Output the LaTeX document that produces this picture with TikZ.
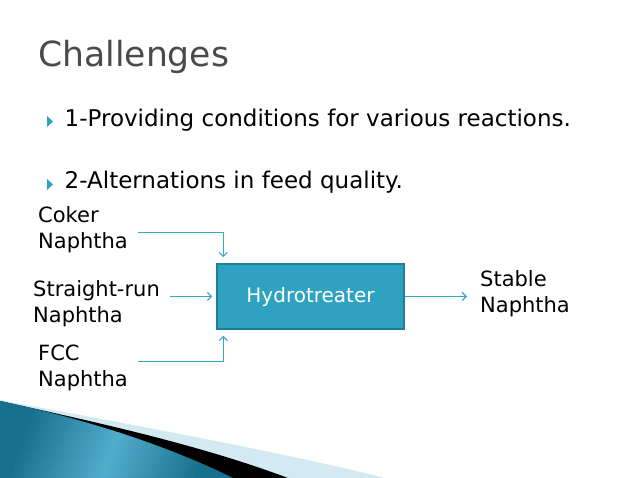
\documentclass[tikz,border=0pt]{standalone}
\usepackage{fontspec}
\setmainfont{DejaVu Sans}
\usetikzlibrary{arrows.meta}

\definecolor{hydroblue}{HTML}{2EA2C0}
\definecolor{boxedge}{HTML}{1E7F97}
\definecolor{flowblue}{HTML}{3AA7C7}
\definecolor{titlegray}{HTML}{4A4A4A}
\definecolor{swooshdark}{HTML}{17718E}
\definecolor{swooshlight}{HTML}{5BB8D6}
\definecolor{paleblue}{HTML}{D4EAF3}

\begin{document}
\begin{tikzpicture}[x=1pt, y=-1pt,
  flow/.style = {-{Straight Barb[length=4pt, width=8pt]}, draw=flowblue, line width=1.2pt},
  feed/.style = {font=\fontsize{21}{26}\selectfont, align=left, inner sep=0pt, anchor=base west},
  item/.style = {font=\fontsize{23}{28}\selectfont, inner sep=0pt, anchor=base west},
  unit/.style = {draw=boxedge, line width=1.5pt, fill=hydroblue, text=white,
                 font=\fontsize{20}{24}\selectfont, minimum width=187pt, minimum height=65pt}]
\useasboundingbox (0,0) rectangle (638,478);

% bottom swoosh
\fill[paleblue] (0,400) .. controls (150,428) and (280,452) .. (385,478) -- (0,478) -- cycle;
\fill[black] (0,401) .. controls (100,423) and (200,445) .. (288,478) -- (0,478) -- cycle;
\begin{scope}
  \clip (0,401) .. controls (90,420) and (170,447) .. (233,478) -- (0,478) -- cycle;
  \foreach \i in {0,...,70} {
    \pgfmathsetmacro\mix{max(0, 85 - abs(\i*4 - 130)*0.9)}
    \fill[swooshlight!\mix!swooshdark] (\i*4,400) -- (\i*4+4.5,400) -- (\i*4-25.5,478) -- (\i*4-30,478) -- cycle;
  }
\end{scope}

% title and bullets
\node[inner sep=0pt, anchor=base west, text=titlegray, font=\fontsize{34.6}{40}\selectfont]
  (title) at (38,67) {Challenges};
\fill[hydroblue] (47,116) -- (53,121.5) -- (47,127) -- cycle;
\fill[hydroblue] (47,179) -- (53,184.5) -- (47,190) -- cycle;
\node[item] (cond) at (64.5,127) {1-Providing conditions for various reactions.};
\node[item] (alt) at (64.5,189) {2-Alternations in feed quality.};

% flow sheet
\node[unit] (hydro) at (310.5,296.5) {Hydrotreater};
\node[feed] (coker) at (38,249) {Coker\\Naphtha};
\node[feed] (straight) at (33,323) {Straight-run\\Naphtha};
\node[feed] (fcc) at (38,387) {FCC\\Naphtha};
\node[feed] (stable) at (480,313) {Stable\\Naphtha};

\draw[flow, shorten <=10pt, shorten >=6pt] ([yshift=-2pt]coker.east) -| ([xshift=7pt]hydro.north west);
\draw[flow, shorten <=10pt, shorten >=4pt] (straight.east |- hydro.west) -- (hydro.west);
\draw[flow, shorten <=10pt, shorten >=6pt] ([yshift=7pt]fcc.east) -| ([xshift=7pt]hydro.south west);
\draw[flow, shorten >=13pt] (hydro.east) -- (stable.west |- hydro.east);
\end{tikzpicture}
\end{document}
